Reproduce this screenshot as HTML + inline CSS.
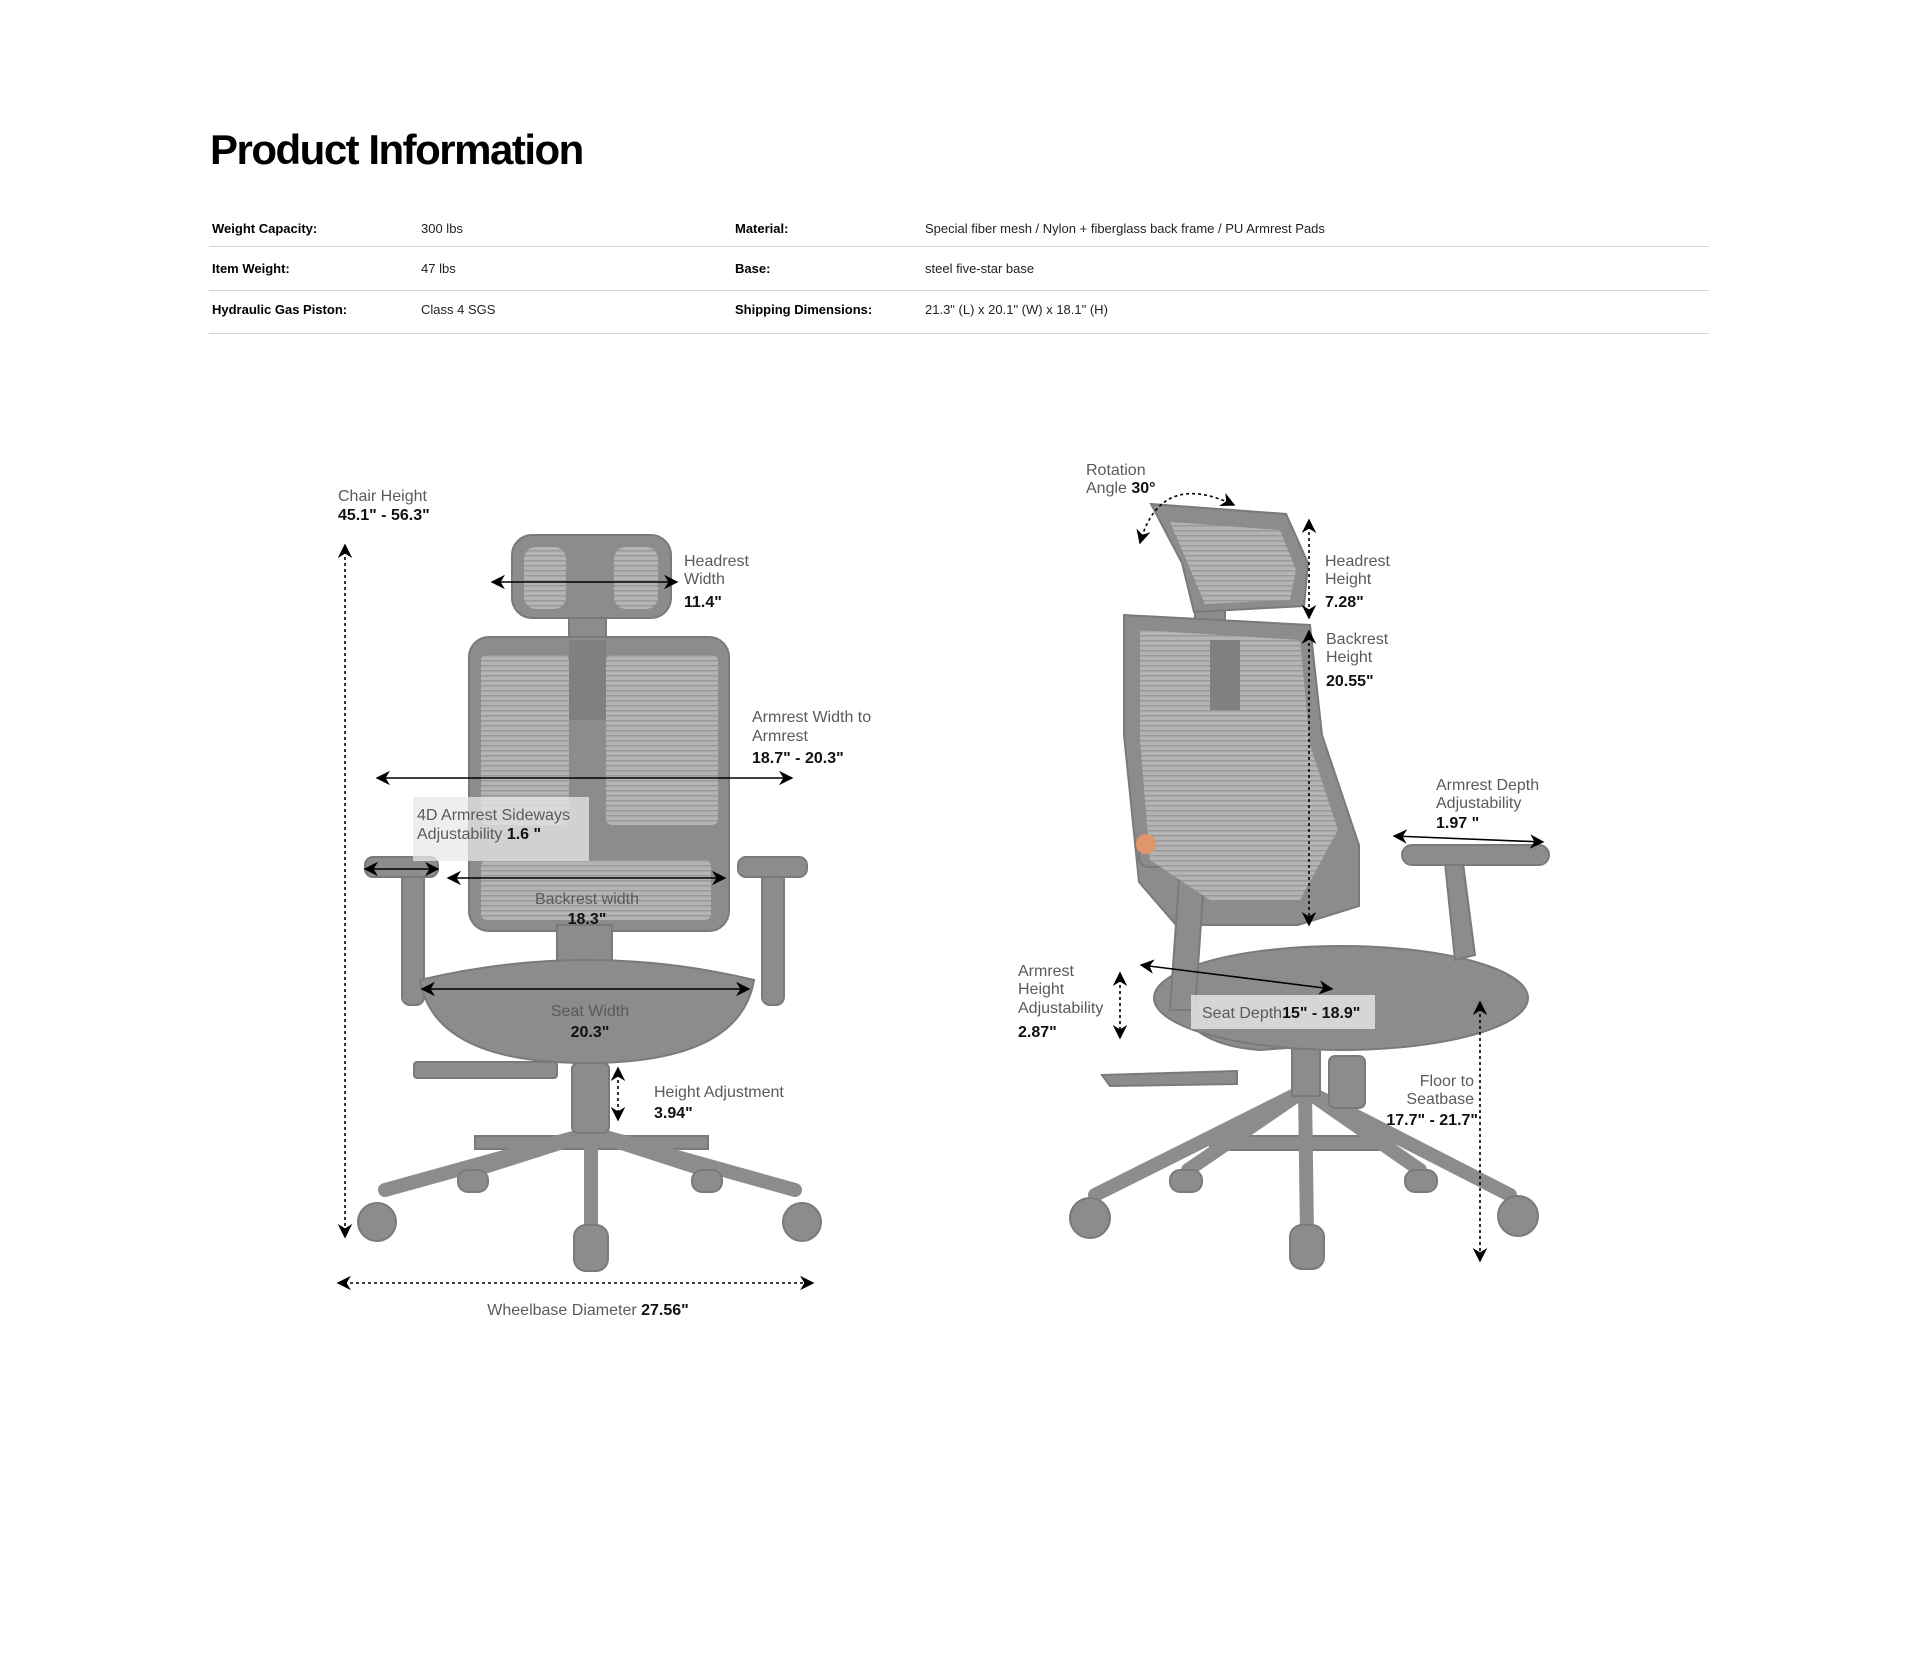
<!DOCTYPE html>
<html><head><meta charset="utf-8"><style>
html,body{margin:0;padding:0;background:#fff}
body{width:1920px;height:1675px;position:relative;overflow:hidden;font-family:"Liberation Sans",sans-serif}
h1{position:absolute;left:210px;top:126px;margin:0;font-size:42px;font-weight:bold;letter-spacing:-1.5px;color:#000}
.t{position:absolute;font-size:13px;color:#222}
.b{font-weight:bold;color:#000}
.ln{position:absolute;left:209px;width:1500px;height:1px;background:#d4d4d4}
svg{position:absolute;left:0;top:0}
svg text{font-family:"Liberation Sans",sans-serif;font-size:16px;fill:#5a5a5a}
svg text .k{font-weight:bold;fill:#111}
</style></head><body>
<h1>Product Information</h1>
<div class="t b" style="left:212px;top:221px">Weight Capacity:</div>
<div class="t" style="left:421px;top:221px">300 lbs</div>
<div class="t b" style="left:735px;top:221px">Material:</div>
<div class="t" style="left:925px;top:221px">Special fiber mesh / Nylon + fiberglass back frame / PU Armrest Pads</div>
<div class="ln" style="top:246px"></div>
<div class="t b" style="left:212px;top:261px">Item Weight:</div>
<div class="t" style="left:421px;top:261px">47 lbs</div>
<div class="t b" style="left:735px;top:261px">Base:</div>
<div class="t" style="left:925px;top:261px">steel five-star base</div>
<div class="ln" style="top:290px"></div>
<div class="t b" style="left:212px;top:302px">Hydraulic Gas Piston:</div>
<div class="t" style="left:421px;top:302px">Class 4 SGS</div>
<div class="t b" style="left:735px;top:302px">Shipping Dimensions:</div>
<div class="t" style="left:925px;top:302px">21.3" (L) x 20.1" (W) x 18.1" (H)</div>
<div class="ln" style="top:333px"></div>

<svg width="1920" height="1675" viewBox="0 0 1920 1675">
<defs>
<marker id="a" viewBox="0 0 10 10" refX="9" refY="5" markerWidth="9" markerHeight="9" orient="auto-start-reverse"><path d="M0,0 L10,5 L0,10 L3,5 z" fill="#000"/></marker>
<pattern id="m" width="6" height="5" patternUnits="userSpaceOnUse"><rect width="6" height="5" fill="#b4b4b4"/><rect width="6" height="1.5" fill="#999"/></pattern>
</defs>
<!-- LEFT CHAIR -->
<g fill="#8c8c8c" stroke="#7a7a7a" stroke-width="2">
<rect x="569" y="612" width="37" height="110"/>
<rect x="469" y="637" width="260" height="294" rx="20"/>
<rect x="512" y="535" width="159" height="83" rx="20"/>
<rect x="557" y="925" width="55" height="45"/>
<rect x="475" y="1136" width="233" height="13"/>
<g stroke="#8c8c8c" stroke-width="14" stroke-linecap="round">
<line x1="591" y1="1133" x2="385" y2="1190"/><line x1="591" y1="1133" x2="795" y2="1190"/>
<line x1="591" y1="1133" x2="591" y2="1240"/><line x1="591" y1="1133" x2="475" y2="1170"/><line x1="591" y1="1133" x2="705" y2="1170"/>
</g>
<circle cx="377" cy="1222" r="19"/><circle cx="802" cy="1222" r="19"/>
<rect x="574" y="1225" width="34" height="46" rx="12"/>
<rect x="458" y="1170" width="30" height="22" rx="10"/><rect x="692" y="1170" width="30" height="22" rx="10"/>
<rect x="572" y="1063" width="37" height="70" rx="6"/>
<rect x="414" y="1062" width="143" height="16" rx="3"/>
<rect x="402" y="870" width="22" height="135" rx="8"/>
<rect x="762" y="870" width="22" height="135" rx="8"/>
<rect x="365" y="857" width="73" height="20" rx="8"/>
<rect x="738" y="857" width="69" height="20" rx="8"/>
<path d="M420,980 Q587,940 754,980 Q740,1063 587,1063 Q434,1063 420,980z"/>
</g>
<g fill="url(#m)">
<rect x="524" y="547" width="42" height="62" rx="12"/><rect x="614" y="547" width="44" height="62" rx="12"/>
<rect x="481" y="655" width="88" height="170" rx="6"/><rect x="606" y="655" width="112" height="170" rx="6"/>
<rect x="481" y="860" width="230" height="60" rx="6"/>
</g>
<rect x="569" y="640" width="37" height="80" fill="#808080"/>
<rect x="413" y="797" width="176" height="64" fill="#e8e8e8" opacity="0.75"/>
<g stroke="#000" stroke-width="1.6" fill="none">
<line x1="345" y1="545" x2="345" y2="1237" stroke-dasharray="3,3" marker-start="url(#a)" marker-end="url(#a)"/>
<line x1="492" y1="582" x2="677" y2="582" marker-start="url(#a)" marker-end="url(#a)"/>
<line x1="377" y1="778" x2="792" y2="778" marker-start="url(#a)" marker-end="url(#a)"/>
<line x1="365" y1="869" x2="438" y2="869" marker-start="url(#a)" marker-end="url(#a)"/>
<line x1="448" y1="878" x2="725" y2="878" marker-start="url(#a)" marker-end="url(#a)"/>
<line x1="422" y1="989" x2="749" y2="989" marker-start="url(#a)" marker-end="url(#a)"/>
<line x1="618" y1="1068" x2="618" y2="1120" stroke-dasharray="3,3" marker-start="url(#a)" marker-end="url(#a)"/>
<line x1="338" y1="1283" x2="813" y2="1283" stroke-dasharray="3,3" marker-start="url(#a)" marker-end="url(#a)"/>
</g>
<text x="338" y="501">Chair Height</text><text x="338" y="520"><tspan class="k">45.1" - 56.3"</tspan></text>
<text x="684" y="566">Headrest</text><text x="684" y="584">Width</text><text x="684" y="607"><tspan class="k">11.4"</tspan></text>
<text x="752" y="722">Armrest Width to</text><text x="752" y="741">Armrest</text><text x="752" y="763"><tspan class="k">18.7" - 20.3"</tspan></text>
<text x="417" y="820">4D Armrest Sideways</text><text x="417" y="839">Adjustability <tspan class="k">1.6 "</tspan></text>
<text x="587" y="904" text-anchor="middle">Backrest width</text><text x="587" y="924" text-anchor="middle"><tspan class="k">18.3"</tspan></text>
<text x="590" y="1016" text-anchor="middle">Seat Width</text><text x="590" y="1037" text-anchor="middle"><tspan class="k">20.3"</tspan></text>
<text x="654" y="1097">Height Adjustment</text><text x="654" y="1118"><tspan class="k">3.94"</tspan></text>
<text x="588" y="1315" text-anchor="middle">Wheelbase Diameter <tspan class="k">27.56"</tspan></text>

<!-- RIGHT CHAIR -->
<g fill="#8c8c8c" stroke="#7a7a7a" stroke-width="2">
<rect x="1195" y="600" width="30" height="110"/>
<path d="M1124,615 L1310,625 L1322,735 L1359,845 L1359,906 L1298,925 L1176,925 L1139,882 L1124,735z"/>
<path d="M1151,504 L1286,514 L1308,563 L1304,606 L1194,612 L1182,563z"/>
<rect x="1210" y="1136" width="185" height="14"/>
<g stroke="#8c8c8c" stroke-width="14" stroke-linecap="round">
<line x1="1305" y1="1090" x2="1095" y2="1195"/><line x1="1305" y1="1090" x2="1510" y2="1195"/>
<line x1="1305" y1="1090" x2="1307" y2="1235"/><line x1="1305" y1="1090" x2="1188" y2="1170"/><line x1="1305" y1="1090" x2="1420" y2="1170"/>
</g>
<circle cx="1090" cy="1218" r="20"/><circle cx="1518" cy="1216" r="20"/>
<rect x="1290" y="1225" width="34" height="44" rx="12"/>
<rect x="1170" y="1170" width="32" height="22" rx="10"/><rect x="1405" y="1170" width="32" height="22" rx="10"/>
<rect x="1292" y="1041" width="28" height="55"/>
<rect x="1329" y="1056" width="36" height="52" rx="6"/>
<path d="M1102,1075 L1237,1071 L1237,1084 L1110,1086z"/>
<path d="M1175,1000 Q1190,1045 1260,1050 L1330,1045 L1330,1000z"/>
<ellipse cx="1341" cy="998" rx="187" ry="52"/>
<path d="M1180,865 L1205,865 L1195,1010 L1170,1010z"/>
<path d="M1445,863 L1463,863 L1475,955 L1455,960z"/>
<rect x="1139" y="845" width="159" height="22" rx="10"/>
<rect x="1402" y="845" width="147" height="20" rx="10"/>
</g>
<path d="M1170,522 L1280,530 L1296,570 L1290,600 L1205,604 Z" fill="url(#m)"/>
<path d="M1140,630 L1300,640 L1310,745 L1338,830 L1300,900 L1210,900 L1150,860 L1140,740z" fill="url(#m)"/>
<rect x="1210" y="640" width="30" height="70" fill="#808080"/>
<circle cx="1146" cy="844" r="10" fill="#e0956a"/>
<rect x="1191" y="995" width="184" height="34" fill="#e8e8e8" opacity="0.8"/>
<g stroke="#000" stroke-width="1.6" fill="none">
<path d="M1140,543 Q1160,470 1234,505" stroke-dasharray="3,3" marker-start="url(#a)" marker-end="url(#a)"/>
<line x1="1309" y1="520" x2="1309" y2="618" stroke-dasharray="3,3" marker-start="url(#a)" marker-end="url(#a)"/>
<line x1="1309" y1="631" x2="1309" y2="925" stroke-dasharray="3,3" marker-start="url(#a)" marker-end="url(#a)"/>
<line x1="1394" y1="836" x2="1543" y2="842" marker-start="url(#a)" marker-end="url(#a)"/>
<line x1="1141" y1="965" x2="1332" y2="989" marker-start="url(#a)" marker-end="url(#a)"/>
<line x1="1120" y1="973" x2="1120" y2="1038" stroke-dasharray="3,3" marker-start="url(#a)" marker-end="url(#a)"/>
<line x1="1480" y1="1002" x2="1480" y2="1261" stroke-dasharray="3,3" marker-start="url(#a)" marker-end="url(#a)"/>
</g>
<text x="1086" y="475">Rotation</text><text x="1086" y="493">Angle <tspan class="k">30°</tspan></text>
<text x="1325" y="566">Headrest</text><text x="1325" y="584">Height</text><text x="1325" y="607"><tspan class="k">7.28"</tspan></text>
<text x="1326" y="644">Backrest</text><text x="1326" y="662">Height</text><text x="1326" y="686"><tspan class="k">20.55"</tspan></text>
<text x="1436" y="790">Armrest Depth</text><text x="1436" y="808">Adjustability</text><text x="1436" y="828"><tspan class="k">1.97 "</tspan></text>
<text x="1018" y="976">Armrest</text><text x="1018" y="994">Height</text><text x="1018" y="1013">Adjustability</text><text x="1018" y="1037"><tspan class="k">2.87"</tspan></text>
<text x="1202" y="1018">Seat Depth<tspan class="k">15" - 18.9"</tspan></text>
<text x="1474" y="1086" text-anchor="end">Floor to</text><text x="1474" y="1104" text-anchor="end">Seatbase</text><text x="1478" y="1125" text-anchor="end"><tspan class="k">17.7" - 21.7"</tspan></text>
</svg>
</body></html>
